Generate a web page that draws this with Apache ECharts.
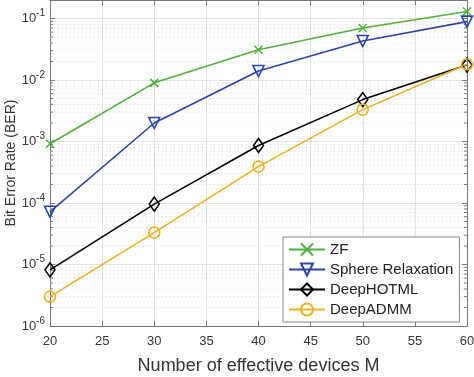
<!DOCTYPE html>
<html><head><meta charset="utf-8">
<script src="https://cdn.jsdelivr.net/npm/echarts@6/dist/echarts.min.js"></script>
<style>html,body{margin:0;padding:0;background:#fff}#c{width:474px;height:377px}</style>
</head><body><div id="c"></div>
<script>
const categories = [20, 30, 40, 50, 60];
const zf = [9.2e-4, 9.0e-3, 3.1e-2, 7.0e-2, 1.3e-1];
const sphere = [7.2e-5, 2.0e-3, 1.4e-2, 4.3e-2, 8.9e-2];
const deepHOTML = [8.2e-6, 9.6e-5, 8.6e-4, 4.8e-3, 1.75e-2];
const deepADMM = [3.0e-6, 3.3e-5, 3.9e-4, 3.3e-3, 1.8e-2];
const seriesNames = ['ZF', 'Sphere Relaxation', 'DeepHOTML', 'DeepADMM'];
const xTicks = [20, 25, 30, 35, 40, 45, 50, 55, 60];
const decades = [1e-6, 1e-5, 1e-4, 1e-3, 1e-2, 1e-1];
const minorMult = [2, 3, 4, 5, 6, 7, 8, 9];

const minorLines = [];
decades.forEach(d => minorMult.forEach(m => { if (d * m < 0.2) minorLines.push(d * m); }));

const font = 'Helvetica, Arial, "Liberation Sans", sans-serif';
const pair = arr => arr.map((v, i) => [categories[i], v]);
const xPath = 'path://M0,0L10,10M10,0L0,10';

function mk(name, data, color, symbol, size, rotate) {
  return {
    name, type: 'line', data: pair(data), symbol, symbolSize: size, symbolRotate: rotate || 0,
    clip: false, z: 5,
    lineStyle: { color, width: 1.6 },
    itemStyle: { color: 'rgba(255,255,255,0)', borderColor: color, borderWidth: 1.6 },
    emphasis: { disabled: true }
  };
}

const chart = echarts.init(document.getElementById('c'), null, { renderer: 'canvas' });
chart.setOption({
  animation: false,
  textStyle: { fontFamily: font },
  grid: { left: 50, right: 7, top: 0, bottom: 51, containLabel: false, outerBoundsMode: 'none' },
  xAxis: [{
    type: 'value', min: 20, max: 60, interval: 5,
    axisLine: { lineStyle: { color: '#777', width: 1 } },
    axisTick: { inside: true, length: 5, lineStyle: { color: '#777' } },
    axisLabel: { color: '#333', fontSize: 13, margin: 9 },
    splitLine: { show: true, lineStyle: { color: '#e2e2e2', width: 1 } },
    name: 'Number of effective devices M', nameLocation: 'middle', nameGap: 31,
    nameTextStyle: { color: '#333', fontSize: 18 }
  }, {
    type: 'value', min: 20, max: 60, interval: 5, position: 'top',
    axisLine: { show: true, lineStyle: { color: '#777' } },
    axisTick: { inside: true, length: 5, lineStyle: { color: '#777' } },
    axisLabel: { show: false }, splitLine: { show: false }
  }],
  yAxis: [{
    type: 'log', logBase: 10, min: 1e-6, max: 0.2,
    axisLine: { show: true, lineStyle: { color: '#777' } },
    axisTick: { inside: true, length: 5, lineStyle: { color: '#777' } },
    axisLabel: {
      color: '#333', fontSize: 13, margin: 5, showMaxLabel: false,
      formatter: v => { const e = Math.round(Math.log10(v)); if (Math.abs(Math.log10(v) - e) > 1e-6) return ''; return '10{s|' + e + '}'; },
      rich: { s: { fontSize: 10, verticalAlign: 'top', padding: [0, 0, 10, 0], color: '#333' } }
    },
    splitLine: { show: true, lineStyle: { color: '#e2e2e2', width: 1 } },
    name: 'Bit Error Rate (BER)', nameLocation: 'middle', nameGap: 32, nameMoveOverlap: false,
    nameTextStyle: { color: '#333', fontSize: 14 }
  }, {
    type: 'log', logBase: 10, min: 1e-6, max: 0.2, position: 'right',
    axisLine: { show: true, lineStyle: { color: '#777' } },
    axisTick: { inside: true, length: 5, lineStyle: { color: '#777' } },
    axisLabel: { show: false }, splitLine: { show: false }
  }],
  legend: {
    left: 283, top: 237, orient: 'vertical',
    data: seriesNames,
    backgroundColor: '#fff', borderColor: '#888', borderWidth: 1,
    padding: [5, 6, 5, 5], itemGap: 5, itemWidth: 36, itemHeight: 15,
    textStyle: { fontSize: 15, color: '#222' }
  },
  series: [
    {
      type: 'custom', silent: true, z: 1,
      data: minorLines.map(v => [v]),
      encode: { y: 0 },
      renderItem: (params, api) => {
        const v = api.value(0);
        const a = api.coord([20, v]);
        const b = api.coord([60, v]);
        return {
          type: 'group', children: [
            { type: 'line', shape: { x1: a[0], y1: a[1], x2: b[0], y2: b[1] },
              style: { stroke: '#d6d6d6', lineWidth: 1, lineDash: [1, 3] } },
            { type: 'line', shape: { x1: a[0], y1: a[1], x2: a[0] + 3, y2: a[1] },
              style: { stroke: '#777', lineWidth: 1 } },
            { type: 'line', shape: { x1: b[0], y1: b[1], x2: b[0] - 3, y2: b[1] },
              style: { stroke: '#777', lineWidth: 1 } }
          ]
        };
      }
    },
    mk(seriesNames[0], zf, '#4FB03C', xPath, 8),
    mk(seriesNames[1], sphere, '#2A44A6', 'triangle', 11, 180),
    mk(seriesNames[2], deepHOTML, '#000000', 'diamond', [10, 14]),
    mk(seriesNames[3], deepADMM, '#EDB120', 'circle', 11)
  ]
});
</script></body></html>
